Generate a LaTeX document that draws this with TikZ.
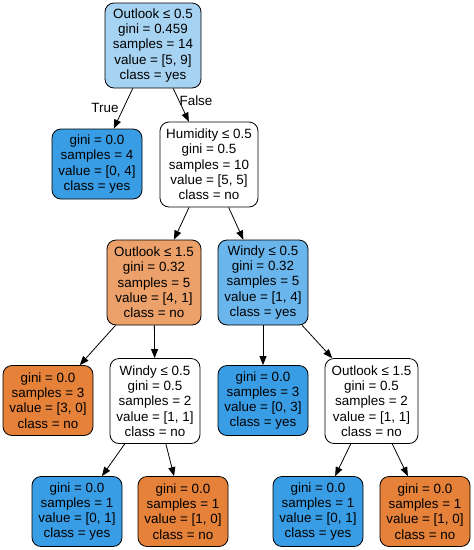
\documentclass[tikz,border=0pt]{standalone}
\usepackage{fontspec}
\setmainfont{Liberation Sans}
\usetikzlibrary{arrows.meta}
\definecolor{cblue}{HTML}{399DE5}
\definecolor{corange}{HTML}{E58139}
\definecolor{croot}{HTML}{A7D3F3}
\definecolor{clorange}{HTML}{ECA06A}
\definecolor{clblue}{HTML}{6AB6EC}
\tikzset{
  tnode/.style={draw=black, line width=0.8pt, rounded corners=9pt, align=center,
    inner sep=0pt, font=\fontsize{13.4}{15.3}\selectfont},
  inner/.style={tnode, minimum height=85pt},
  leaf/.style={tnode, minimum height=70pt, minimum width=90pt},
  edge/.style={-{Triangle[length=9pt,width=7pt]}, line width=0.8pt, black},
  elabel/.style={font=\fontsize{13.4}{15.3}\selectfont}
}
\begin{document}
\begin{tikzpicture}[x=1pt,y=-1pt]
\useasboundingbox[fill=white] (0,0) rectangle (474,550);
\node[inner, fill=croot, minimum width=96pt] (root) at (153,45.5)
  {Outlook ≤ 0.5\\gini = 0.459\\samples = 14\\value = [5, 9]\\class = yes};
\node[leaf, fill=cblue] (l1) at (97,164)
  {gini = 0.0\\samples = 4\\value = [0, 4]\\class = yes};
\node[inner, fill=white, minimum width=98pt] (hum) at (209,164.5)
  {Humidity ≤ 0.5\\gini = 0.5\\samples = 10\\value = [5, 5]\\class = no};
\node[inner, fill=clorange, minimum width=94pt] (out2) at (154,282.5)
  {Outlook ≤ 1.5\\gini = 0.32\\samples = 5\\value = [4, 1]\\class = no};
\node[inner, fill=clblue, minimum width=90pt] (win1) at (263,282.5)
  {Windy ≤ 0.5\\gini = 0.32\\samples = 5\\value = [1, 4]\\class = yes};
\node[leaf, fill=corange] (l2) at (48,400.5)
  {gini = 0.0\\samples = 3\\value = [3, 0]\\class = no};
\node[inner, fill=white, minimum width=90pt] (win2) at (155,401)
  {Windy ≤ 0.5\\gini = 0.5\\samples = 2\\value = [1, 1]\\class = no};
\node[leaf, fill=cblue] (l3) at (263,400.5)
  {gini = 0.0\\samples = 3\\value = [0, 3]\\class = yes};
\node[inner, fill=white, minimum width=93pt] (out3) at (371.5,401)
  {Outlook ≤ 1.5\\gini = 0.5\\samples = 2\\value = [1, 1]\\class = no};
\node[leaf, fill=cblue] (l4) at (77,511.5)
  {gini = 0.0\\samples = 1\\value = [0, 1]\\class = yes};
\node[leaf, fill=corange] (l5) at (183,511.5)
  {gini = 0.0\\samples = 1\\value = [1, 0]\\class = no};
\node[leaf, fill=cblue] (l6) at (318,511.5)
  {gini = 0.0\\samples = 1\\value = [0, 1]\\class = yes};
\node[leaf, fill=corange] (l7) at (425,511.5)
  {gini = 0.0\\samples = 1\\value = [1, 0]\\class = no};
\draw[edge] (root) -- (l1);
\draw[edge] (root) -- (hum);
\node[elabel] (tlab) at (105,108) {True};
\node[elabel] (flab) at (196,101) {False};
\draw[edge] (hum) -- (out2);
\draw[edge] (hum) -- (win1);
\draw[edge] (out2) -- (l2);
\draw[edge] (out2) -- (win2);
\draw[edge] (win1) -- (l3);
\draw[edge] (win1) -- (out3);
\draw[edge] (win2) -- (l4);
\draw[edge] (win2) -- (l5);
\draw[edge] (out3) -- (l6);
\draw[edge] (out3) -- (l7);
\end{tikzpicture}
\end{document}
